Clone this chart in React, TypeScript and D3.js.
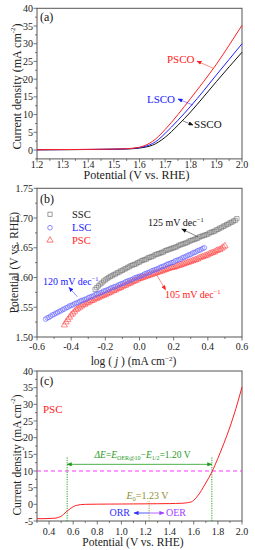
import React from 'react';
import * as d3 from 'd3';

const FONT = '"Liberation Serif", "Times New Roman", serif';
const AXIS = '#555';

// ---------- Panel (a): LSV curves ----------
const potentialA = [1.2, 1.25, 1.3, 1.35, 1.4, 1.45, 1.5, 1.55, 1.6, 1.625, 1.65, 1.675, 1.7, 1.75, 1.8, 1.85, 1.9, 1.95, 2.0];
const psco = [0.1, 0.12, 0.14, 0.16, 0.19, 0.22, 0.27, 0.38, 0.8, 1.4, 2.4, 3.9, 5.8, 10.0, 14.6, 19.3, 24.2, 29.6, 35.2];
const lsco = [0.08, 0.1, 0.12, 0.14, 0.17, 0.2, 0.25, 0.34, 0.7, 1.1, 1.8, 3.0, 4.7, 8.4, 12.4, 16.7, 21.2, 25.6, 30.0];
const ssco = [0.06, 0.08, 0.1, 0.12, 0.15, 0.18, 0.22, 0.3, 0.55, 0.85, 1.35, 2.3, 3.6, 7.0, 10.8, 15.0, 19.3, 23.5, 27.6];
const xTicksA = [1.2, 1.3, 1.4, 1.5, 1.6, 1.7, 1.8, 1.9, 2.0];
const yTicksA = [0, 5, 10, 15, 20, 25, 30, 35, 40];

// ---------- Panel (b): Tafel plots ----------
const sscLogJ = [-0.26, -0.25, -0.24, -0.23, -0.22, -0.21, -0.2, -0.19, -0.18, -0.17, -0.16, -0.15, -0.14, -0.13, -0.12, -0.11, -0.1, -0.09, -0.08, -0.07, -0.06, -0.05, -0.04, -0.03, -0.02, -0.01, 0.0, 0.01, 0.02, 0.03, 0.04, 0.05, 0.06, 0.07, 0.08, 0.09, 0.1, 0.11, 0.12, 0.13, 0.14, 0.15, 0.16, 0.17, 0.18, 0.19, 0.2, 0.21, 0.22, 0.23, 0.24, 0.25, 0.26, 0.27, 0.28, 0.29, 0.3, 0.31, 0.32, 0.33, 0.34, 0.35, 0.36, 0.37, 0.38, 0.39, 0.4, 0.41, 0.42, 0.43, 0.44, 0.45, 0.46, 0.47, 0.48, 0.49, 0.5, 0.51, 0.52, 0.53, 0.54, 0.55, 0.56, 0.57];
const sscE = [1.58, 1.583, 1.586, 1.589, 1.591, 1.594, 1.596, 1.598, 1.6, 1.602, 1.603, 1.605, 1.606, 1.608, 1.609, 1.611, 1.612, 1.614, 1.615, 1.617, 1.618, 1.62, 1.621, 1.622, 1.623, 1.625, 1.626, 1.628, 1.629, 1.63, 1.631, 1.633, 1.634, 1.635, 1.636, 1.638, 1.639, 1.64, 1.641, 1.642, 1.643, 1.645, 1.646, 1.647, 1.648, 1.649, 1.65, 1.651, 1.652, 1.654, 1.655, 1.656, 1.657, 1.658, 1.659, 1.661, 1.662, 1.663, 1.664, 1.665, 1.666, 1.668, 1.669, 1.67, 1.671, 1.672, 1.673, 1.675, 1.676, 1.677, 1.678, 1.68, 1.681, 1.683, 1.684, 1.686, 1.687, 1.689, 1.69, 1.692, 1.693, 1.695, 1.696, 1.699];
const lscLogJ = [-0.55, -0.54, -0.53, -0.52, -0.51, -0.5, -0.49, -0.48, -0.47, -0.46, -0.45, -0.44, -0.43, -0.42, -0.41, -0.4, -0.39, -0.38, -0.37, -0.36, -0.35, -0.34, -0.33, -0.32, -0.31, -0.3, -0.29, -0.28, -0.27, -0.26, -0.25, -0.24, -0.23, -0.22, -0.21, -0.2, -0.19, -0.18, -0.17, -0.16, -0.15, -0.14, -0.13, -0.12, -0.11, -0.1, -0.09, -0.08, -0.07, -0.06, -0.05, -0.04, -0.03, -0.02, -0.01, 0.0, 0.01, 0.02, 0.03, 0.04, 0.05, 0.06, 0.07, 0.08, 0.09, 0.1, 0.11, 0.12, 0.13, 0.14, 0.15, 0.16, 0.17, 0.18, 0.19, 0.2, 0.21, 0.22, 0.23, 0.24, 0.25, 0.26, 0.27, 0.28, 0.29, 0.3, 0.31, 0.32, 0.33, 0.34, 0.35, 0.36, 0.37, 0.38];
const lscE = [1.53, 1.532, 1.533, 1.535, 1.537, 1.538, 1.54, 1.541, 1.543, 1.544, 1.546, 1.547, 1.549, 1.55, 1.552, 1.553, 1.554, 1.556, 1.557, 1.558, 1.56, 1.561, 1.562, 1.563, 1.564, 1.566, 1.567, 1.568, 1.569, 1.571, 1.572, 1.573, 1.574, 1.575, 1.577, 1.578, 1.579, 1.58, 1.582, 1.583, 1.584, 1.585, 1.586, 1.588, 1.589, 1.59, 1.591, 1.593, 1.594, 1.595, 1.596, 1.597, 1.599, 1.6, 1.601, 1.602, 1.603, 1.604, 1.606, 1.607, 1.608, 1.609, 1.611, 1.612, 1.613, 1.614, 1.615, 1.617, 1.618, 1.619, 1.62, 1.622, 1.623, 1.624, 1.625, 1.626, 1.628, 1.629, 1.63, 1.631, 1.633, 1.634, 1.635, 1.637, 1.638, 1.639, 1.641, 1.642, 1.643, 1.645, 1.646, 1.647, 1.649, 1.65];
const pscLogJ = [-0.44, -0.43, -0.42, -0.41, -0.4, -0.39, -0.38, -0.37, -0.36, -0.35, -0.34, -0.33, -0.32, -0.31, -0.3, -0.29, -0.28, -0.27, -0.26, -0.25, -0.24, -0.23, -0.22, -0.21, -0.2, -0.19, -0.18, -0.17, -0.16, -0.15, -0.14, -0.13, -0.12, -0.11, -0.1, -0.09, -0.08, -0.07, -0.06, -0.05, -0.04, -0.03, -0.02, -0.01, 0.0, 0.01, 0.02, 0.03, 0.04, 0.05, 0.06, 0.07, 0.08, 0.09, 0.1, 0.11, 0.12, 0.13, 0.14, 0.15, 0.16, 0.17, 0.18, 0.19, 0.2, 0.21, 0.22, 0.23, 0.24, 0.25, 0.26, 0.27, 0.28, 0.29, 0.3, 0.31, 0.32, 0.33, 0.34, 0.35, 0.36, 0.37, 0.38, 0.39, 0.4, 0.41, 0.42, 0.43, 0.44, 0.45, 0.46, 0.47, 0.48, 0.49, 0.5];
const pscE = [1.52, 1.525, 1.529, 1.533, 1.537, 1.54, 1.543, 1.546, 1.548, 1.55, 1.552, 1.554, 1.555, 1.557, 1.558, 1.56, 1.561, 1.562, 1.564, 1.565, 1.566, 1.568, 1.569, 1.57, 1.571, 1.573, 1.574, 1.575, 1.577, 1.578, 1.579, 1.581, 1.582, 1.583, 1.585, 1.586, 1.587, 1.589, 1.59, 1.591, 1.593, 1.594, 1.595, 1.597, 1.598, 1.599, 1.6, 1.601, 1.602, 1.603, 1.604, 1.605, 1.606, 1.607, 1.608, 1.609, 1.61, 1.611, 1.612, 1.613, 1.614, 1.615, 1.616, 1.617, 1.617, 1.618, 1.619, 1.62, 1.621, 1.622, 1.623, 1.624, 1.625, 1.626, 1.627, 1.628, 1.629, 1.63, 1.631, 1.633, 1.634, 1.635, 1.636, 1.637, 1.638, 1.64, 1.641, 1.642, 1.643, 1.645, 1.646, 1.647, 1.649, 1.651, 1.653];
const xTicksB = [-0.6, -0.4, -0.2, 0.0, 0.2, 0.4, 0.6];
const yTicksB = [1.5, 1.55, 1.6, 1.65, 1.7, 1.75];

// ---------- Panel (c): bifunctional curve ----------
const potentialC = [0.3, 0.35, 0.4, 0.45, 0.48, 0.5, 0.52, 0.55, 0.58, 0.6, 0.63, 0.66, 0.7, 0.8, 0.9, 1.0, 1.1, 1.2, 1.3, 1.4, 1.45, 1.5, 1.55, 1.58, 1.6, 1.625, 1.65, 1.675, 1.7, 1.725, 1.75, 1.8, 1.85, 1.9, 1.95, 2.0];
const currentC = [-4.3, -4.3, -4.25, -4.15, -3.9, -3.6, -3.0, -2.0, -1.2, -0.7, -0.3, -0.1, 0.0, 0.05, 0.08, 0.1, 0.12, 0.15, 0.18, 0.22, 0.27, 0.32, 0.5, 0.75, 1.2, 2.2, 3.4, 4.9, 6.4, 8.0, 9.7, 13.8, 18.3, 23.2, 28.8, 35.2];
const xTicksC = [0.4, 0.6, 0.8, 1.0, 1.2, 1.4, 1.6, 1.8, 2.0];
const yTicksC = [-5, 0, 5, 10, 15, 20, 25, 30, 35, 40];
const eHalf = 0.55;
const eOer10 = 1.75;
const e0 = 1.23;
const jRef = 10;

type Sc = d3.ScaleLinear<number, number>;

function Frame(props: {
  xs: Sc; ys: Sc; xMajor: number[]; xMinor: number[]; yMajor: number[]; yMinor: number[];
  xFmt: (v: number) => string; yFmt: (v: number) => string; tickY: number;
}) {
  const { xs, ys, xMajor, xMinor, yMajor, yMinor, xFmt, yFmt, tickY } = props;
  const [x0, x1] = xs.range();
  const [y0, y1] = ys.range();
  return (
    <g>
      <rect x={x0} y={y1} width={x1 - x0} height={y0 - y1} fill="none" stroke={AXIS} strokeWidth={1} />
      {xMinor.map((v, i) => (
        <line key={'xm' + i} x1={xs(v)} x2={xs(v)} y1={y0} y2={y0 + 2} stroke={AXIS} strokeWidth={0.8} />
      ))}
      {xMajor.map((v, i) => (
        <line key={'xM' + i} x1={xs(v)} x2={xs(v)} y1={y0} y2={y0 + 3.5} stroke={AXIS} strokeWidth={0.8} />
      ))}
      {xMajor.map((v, i) => (
        <text key={'xt' + i} x={xs(v)} y={tickY} textAnchor="middle" fontSize={10} fill="#222">{xFmt(v)}</text>
      ))}
      {yMinor.map((v, i) => (
        <line key={'ym' + i} x1={x0 - 2} x2={x0} y1={ys(v)} y2={ys(v)} stroke={AXIS} strokeWidth={0.8} />
      ))}
      {yMajor.map((v, i) => (
        <line key={'yM' + i} x1={x0 - 3.5} x2={x0} y1={ys(v)} y2={ys(v)} stroke={AXIS} strokeWidth={0.8} />
      ))}
      {yMajor.map((v, i) => (
        <text key={'yt' + i} x={x0 - 4} y={ys(v)} dy="0.35em" textAnchor="end" fontSize={10} fill="#222">{yFmt(v)}</text>
      ))}
    </g>
  );
}

function Arrow(p: { x1: number; y1: number; x2: number; y2: number; color: string; id: string; both?: boolean; w?: number }) {
  return (
    <line x1={p.x1} y1={p.y1} x2={p.x2} y2={p.y2} stroke={p.color} strokeWidth={p.w ?? 0.7}
      markerEnd={`url(#${p.id})`} markerStart={p.both ? `url(#${p.id})` : undefined} />
  );
}

function range(a: number, b: number, s: number) {
  const out: number[] = [];
  for (let i = 0; a + i * s <= b + 1e-9; i++) out.push(+(a + i * s).toFixed(4));
  return out;
}

export default function App() {
  // scales
  const xA = d3.scaleLinear().domain([1.2, 2.0]).range([37, 242]);
  const yA = d3.scaleLinear().domain([-2.5, 40]).range([158.9, 8.3]);
  const xB = d3.scaleLinear().domain([-0.6, 0.6]).range([37, 242]);
  const yB = d3.scaleLinear().domain([1.5, 1.75]).range([337, 188.3]);
  const xC = d3.scaleLinear().domain([0.3, 2.0]).range([37, 242]);
  const yC = d3.scaleLinear().domain([-5, 40]).range([521, 371]);

  const lineA = (ys: number[]) =>
    d3.line<number>().x((_, i) => xA(potentialA[i])).y((d) => yA(d)).curve(d3.curveMonotoneX)(ys) || '';
  const lineC = d3.line<number>().x((_, i) => xC(potentialC[i])).y((d) => yC(d)).curve(d3.curveMonotoneX)(currentC) || '';

  const sq = d3.symbol().type(d3.symbolSquare).size(18)() || '';
  const ci = d3.symbol().type(d3.symbolCircle).size(17)() || '';
  const tr = d3.symbol().type(d3.symbolTriangle).size(17)() || '';

  const cSSC = '#707070';
  const cLSC = '#6060ff';
  const cPSC = '#ff4040';

  const markers: [string, string][] = [
    ['ah-red', '#ff2020'], ['ah-blue', '#2020ff'], ['ah-black', '#111'], ['ah-green', '#1f9a1f'],
    ['ah-oblue', '#2f2fff'], ['ah-purple', '#a040ff'],
  ];

  const sup = (s: string, fs = 7) => (
    <tspan fontSize={fs} dy={-4}>{s}</tspan>
  );

  return (
    <svg width={255} height={550} style={{ position: 'absolute', left: 0, top: 0, background: '#fff', fontFamily: FONT }}
      fontFamily={FONT}>
      <defs>
        {markers.map(([id, c]) => (
          <marker key={id} id={id} viewBox="0 0 6 5" refX={5.5} refY={2.5} markerWidth={5} markerHeight={4.2}
            markerUnits="userSpaceOnUse" orient="auto-start-reverse">
            <path d="M0,0 L6,2.5 L0,5 z" fill={c} />
          </marker>
        ))}
      </defs>
      <rect x={0} y={0} width={255} height={550} fill="#fff" />

      {/* ================= Panel (a) ================= */}
      <Frame xs={xA} ys={yA} xMajor={xTicksA} xMinor={range(1.25, 1.95, 0.1)} yMajor={yTicksA} yMinor={range(-2.5, 37.5, 5)}
        xFmt={(v) => v.toFixed(1)} yFmt={(v) => String(v)} tickY={167.5} />
      <path d={lineA(ssco)} fill="none" stroke="#111" strokeWidth={1} />
      <path d={lineA(lsco)} fill="none" stroke="#2020ff" strokeWidth={1} />
      <path d={lineA(psco)} fill="none" stroke="#ff2020" strokeWidth={1} />
      <text x={40} y={21} fontSize={12} fill="#111">(a)</text>
      <text x={xA(1.707)} y={yA(24.5)} fontSize={11} fill="#ff2020">PSCO</text>
      <Arrow x1={xA(1.887)} y1={yA(23.1)} x2={xA(1.824)} y2={yA(25.1)} color="#ff2020" id="ah-red" w={0.5} />
      <text x={xA(1.629)} y={yA(13.3)} fontSize={11} fill="#2020ff">LSCO</text>
      <Arrow x1={xA(1.809)} y1={yA(12.7)} x2={xA(1.75)} y2={yA(14.4)} color="#2020ff" id="ah-blue" w={0.5} />
      <text x={xA(1.813)} y={yA(6.2)} fontSize={11} fill="#111">SSCO</text>
      <Arrow x1={xA(1.77)} y1={yA(8.2)} x2={xA(1.809)} y2={yA(7.05)} color="#111" id="ah-black" w={0.5} />
      <text x={136.5} y={179} textAnchor="middle" fontSize={12} fill="#222">Potential (V vs. RHE)</text>
      <text transform="translate(17,86.5) rotate(-90)" textAnchor="middle" dominantBaseline="central" fontSize={12} fill="#222">
        Current density (mA cm{sup('-2')}<tspan dy={4}>)</tspan>
      </text>

      {/* ================= Panel (b) ================= */}
      <Frame xs={xB} ys={yB} xMajor={xTicksB} xMinor={range(-0.5, 0.5, 0.2)} yMajor={yTicksB} yMinor={range(1.525, 1.725, 0.05)}
        xFmt={(v) => v.toFixed(1)} yFmt={(v) => v.toFixed(2)} tickY={350} />
      {sscLogJ.map((v, i) => (
        <path key={'s' + i} d={sq} transform={`translate(${xB(v)},${yB(sscE[i])})`} fill="none" stroke={cSSC} strokeWidth={0.6} />
      ))}
      {pscLogJ.map((v, i) => (
        <path key={'p' + i} d={tr} transform={`translate(${xB(v)},${yB(pscE[i])})`} fill="none" stroke={cPSC} strokeWidth={0.6} />
      ))}
      {lscLogJ.map((v, i) => (
        <path key={'l' + i} d={ci} transform={`translate(${xB(v)},${yB(lscE[i])})`} fill="none" stroke={cLSC} strokeWidth={0.6} />
      ))}
      <text x={40} y={203} fontSize={12} fill="#111">(b)</text>
      <path d={sq} transform="translate(50,214.3)" fill="none" stroke={cSSC} strokeWidth={0.7} />
      <path d={ci} transform="translate(50,227.7)" fill="none" stroke={cLSC} strokeWidth={0.7} />
      <path d={tr} transform="translate(50,240.3)" fill="none" stroke={cPSC} strokeWidth={0.7} />
      <text x={72} y={214.3} dy="0.35em" fontSize={10.5} fill="#111">SSC</text>
      <text x={72} y={227.7} dy="0.35em" fontSize={10.5} fill="#2020ff">LSC</text>
      <text x={72} y={240.3} dy="0.35em" fontSize={10.5} fill="#ff2020">PSC</text>
      <text x={xB(0.05)} y={yB(1.6866)} fontSize={10} fill="#111">125 mV dec{sup('−1', 6.5)}</text>
      <Arrow x1={xB(0.341)} y1={yB(1.6686)} x2={xB(0.247)} y2={yB(1.6816)} color="#111" id="ah-black" w={0.5} />
      <text x={xB(-0.565)} y={yB(1.5874)} fontSize={10} fill="#2020ff">120 mV dec{sup('−1', 6.5)}</text>
      <Arrow x1={xB(-0.364)} y1={yB(1.5678)} x2={xB(-0.413)} y2={yB(1.5835)} color="#2020ff" id="ah-blue" w={0.5} />
      <text x={xB(0.149)} y={yB(1.5656)} fontSize={10} fill="#ff2020">105 mV dec{sup('−1', 6.5)}</text>
      <Arrow x1={xB(0.101)} y1={yB(1.6043)} x2={xB(0.153)} y2={yB(1.5791)} color="#ff2020" id="ah-red" w={0.5} />
      <text x={133.5} y={364.5} textAnchor="middle" fontSize={11.5} fill="#222">
        log ( <tspan fontStyle="italic">j</tspan> ) (mA cm{sup('−2')}<tspan dy={4}>)</tspan>
      </text>
      <text transform="translate(14,262.6) rotate(-90)" textAnchor="middle" dominantBaseline="central" fontSize={11.5} fill="#222">
        Potential (V vs. RHE)
      </text>

      {/* ================= Panel (c) ================= */}
      <Frame xs={xC} ys={yC} xMajor={xTicksC} xMinor={range(0.3, 1.9, 0.2)} yMajor={yTicksC} yMinor={range(-2.5, 37.5, 5)}
        xFmt={(v) => v.toFixed(1)} yFmt={(v) => String(v)} tickY={534.5} />
      <line x1={xC(0.3)} x2={xC(2.0)} y1={yC(jRef)} y2={yC(jRef)} stroke="#ff33ff" strokeWidth={1} strokeDasharray="4,3" />
      <line x1={xC(eHalf)} x2={xC(eHalf)} y1={yC(-5)} y2={yC(14.4)} stroke="#22a322" strokeWidth={1} strokeDasharray="1.2,1.2" />
      <line x1={xC(eOer10)} x2={xC(eOer10)} y1={yC(-5)} y2={yC(14.4)} stroke="#22a322" strokeWidth={1} strokeDasharray="1.2,1.2" />
      <line x1={xC(e0)} x2={xC(e0)} y1={yC(-5)} y2={yC(1.0)} stroke="#a3a33a" strokeWidth={1} strokeDasharray="1.2,1.2" />
      <path d={lineC} fill="none" stroke="#ff2020" strokeWidth={1} />
      <Arrow x1={xC(eHalf)} y1={yC(12)} x2={xC(eOer10)} y2={yC(12)} color="#1f9a1f" id="ah-green" both w={0.8} />
      <text x={xC(1.175)} y={yC(13.9)} textAnchor="middle" fontSize={9.5} fill="#1f9a1f">
        <tspan fontStyle="italic">ΔE</tspan>=<tspan fontStyle="italic">E</tspan>
        <tspan fontSize={6} dy={2}>OER@10</tspan><tspan dy={-2}>−</tspan><tspan fontStyle="italic">E</tspan>
        <tspan fontSize={6} dy={2}>1/2</tspan><tspan dy={-2}>=1.20 V</tspan>
      </text>
      <text x={xC(1.216)} y={yC(1.6)} textAnchor="middle" fontSize={10} fill="#8f8f30">
        <tspan fontStyle="italic">E</tspan><tspan fontSize={6.5} dy={2}>0</tspan><tspan dy={-2}>=1.23 V</tspan>
      </text>
      <Arrow x1={xC(e0)} y1={yC(-2.6)} x2={xC(1.104)} y2={yC(-2.6)} color="#2f2fff" id="ah-oblue" w={0.8} />
      <Arrow x1={xC(e0)} y1={yC(-2.6)} x2={xC(1.353)} y2={yC(-2.6)} color="#a040ff" id="ah-purple" w={0.8} />
      <text x={xC(1.071)} y={yC(-3.5)} textAnchor="end" fontSize={10} fill="#2f2fff">ORR</text>
      <text x={xC(1.37)} y={yC(-3.5)} fontSize={10} fill="#a040ff">OER</text>
      <text x={40} y={385} fontSize={12} fill="#111">(c)</text>
      <text x={43} y={413} fontSize={11} fill="#ff2020">PSC</text>
      <text x={133} y={545.5} textAnchor="middle" fontSize={11.5} fill="#222">Potential  (V vs. RHE)</text>
      <text transform="translate(17,455) rotate(-90)" textAnchor="middle" dominantBaseline="central" fontSize={11.5} fill="#222">
        Current density (mA cm{sup('-2')}<tspan dy={4}>)</tspan>
      </text>
    </svg>
  );
}
